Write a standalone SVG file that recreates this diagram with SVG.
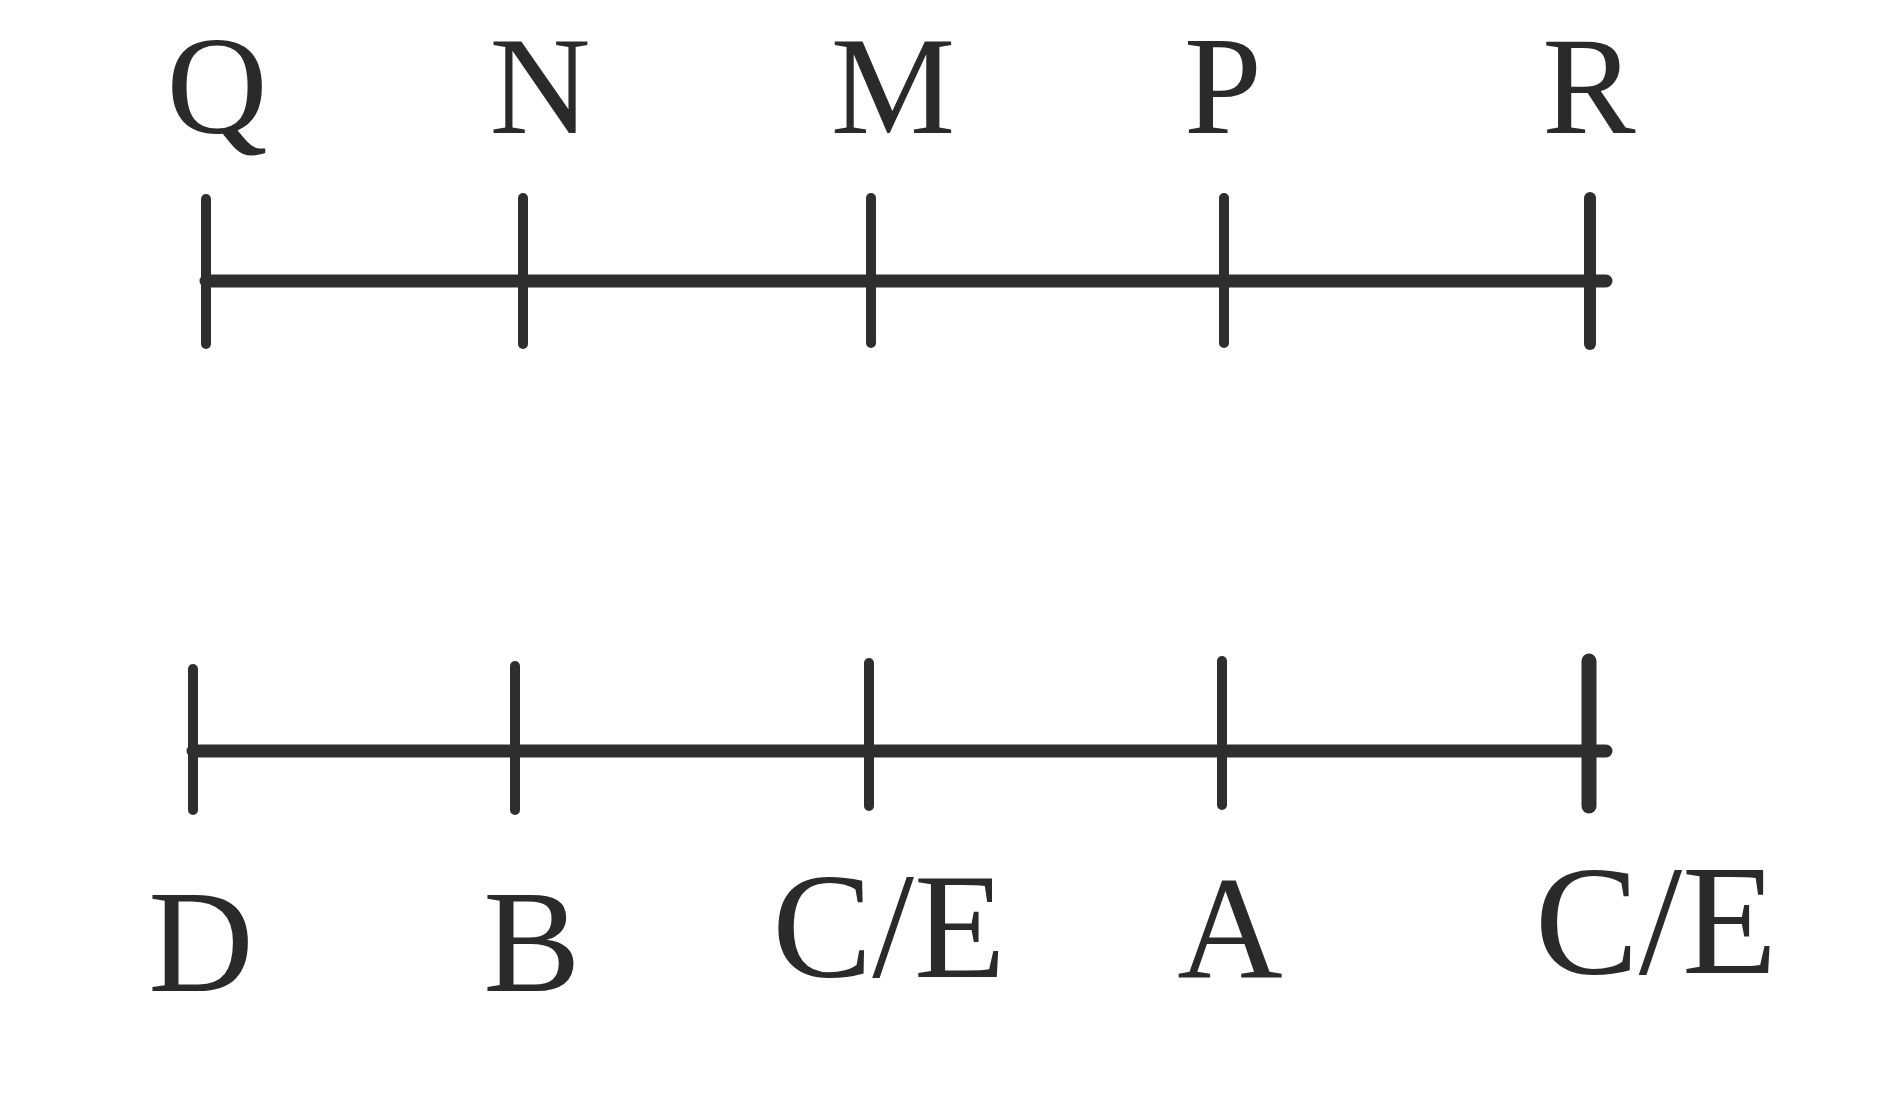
<svg xmlns="http://www.w3.org/2000/svg" width="1890" height="1110" viewBox="0 0 1890 1110">
<style>
.lbl{font-family:"Liberation Serif","Times New Roman",serif;font-size:146px;fill:#2a2a2a;text-anchor:middle}
.top{font-size:140px}
.ln{stroke:#2e2e2e;stroke-width:13;stroke-linecap:round;fill:none}
.tk{stroke:#2e2e2e;stroke-width:10;stroke-linecap:round;fill:none}
</style>
<rect width="1890" height="1110" fill="#ffffff"/>
<g id="connectors">
<line class="ln" x1="206" y1="281" x2="1606" y2="281"/>
<line class="ln" x1="193" y1="751" x2="1606" y2="751"/>
</g>
<g id="node-Q"><line class="tk" x1="206" y1="199" x2="206" y2="344"/><text class="lbl top" x="217" y="133">Q</text></g>
<g id="node-N"><line class="tk" x1="523" y1="198" x2="523" y2="344"/><text class="lbl top" x="540" y="133">N</text></g>
<g id="node-M"><line class="tk" x1="871" y1="198" x2="871" y2="343"/><text class="lbl top" x="893" y="133">M</text></g>
<g id="node-P"><line class="tk" x1="1224" y1="198" x2="1224" y2="343"/><text class="lbl top" x="1223" y="133">P</text></g>
<g id="node-R"><line class="tk" x1="1590" y1="198" x2="1590" y2="344" style="stroke-width:12"/><text class="lbl top" x="1589" y="133">R</text></g>
<g id="node-D"><line class="tk" x1="193" y1="669" x2="193" y2="810"/><text class="lbl" x="201" y="991">D</text></g>
<g id="node-B"><line class="tk" x1="515" y1="666" x2="515" y2="810"/><text class="lbl" x="532" y="991">B</text></g>
<g id="node-CE1"><line class="tk" x1="869" y1="663" x2="869" y2="806"/><text class="lbl" x="889" y="977" style="font-size:150px">C/E</text></g>
<g id="node-A"><line class="tk" x1="1222" y1="661" x2="1222" y2="805"/><text class="lbl" x="1230" y="977">A</text></g>
<g id="node-CE2"><line class="tk" x1="1589" y1="661" x2="1589" y2="806" style="stroke-width:15"/><text class="lbl" x="1656" y="973" style="font-size:156px">C/E</text></g>
</svg>
